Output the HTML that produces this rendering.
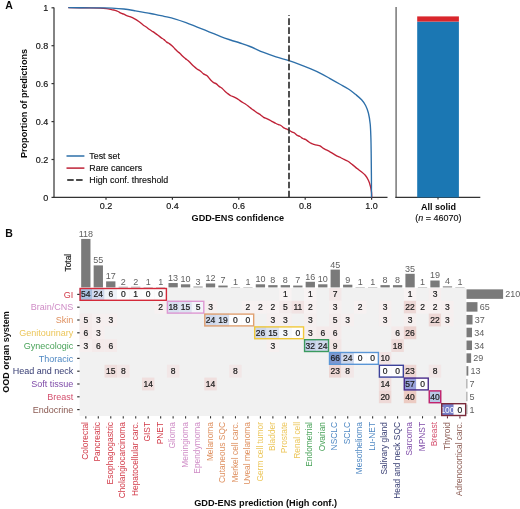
<!DOCTYPE html>
<html><head><meta charset="utf-8"><style>
html,body{margin:0;padding:0;background:#fff;}
body{width:520px;height:509px;overflow:hidden;font-family:"Liberation Sans",sans-serif;}
svg{display:block;filter:blur(0.35px);}
</style></head><body>
<svg width="520" height="509" viewBox="0 0 520 509"><text x="5.3" y="9" font-family="Liberation Sans, sans-serif" font-size="10.5" font-weight="bold" fill="#0a0a0a">A</text>
<line x1="54.0" y1="7.5" x2="54.0" y2="198.1" stroke="#5a5a5a" stroke-width="1.5"/>
<line x1="53.3" y1="197.4" x2="387.5" y2="197.4" stroke="#333" stroke-width="1.4"/>
<line x1="51.5" y1="197.4" x2="54.0" y2="197.4" stroke="#333" stroke-width="1.2"/>
<text x="48.3" y="200.6" font-family="Liberation Sans, sans-serif" font-size="9" fill="#111" stroke="#111" stroke-width="0.15" text-anchor="end">0</text>
<line x1="51.5" y1="159.5" x2="54.0" y2="159.5" stroke="#333" stroke-width="1.2"/>
<text x="48.3" y="162.7" font-family="Liberation Sans, sans-serif" font-size="9" fill="#111" stroke="#111" stroke-width="0.15" text-anchor="end">0.2</text>
<line x1="51.5" y1="121.6" x2="54.0" y2="121.6" stroke="#333" stroke-width="1.2"/>
<text x="48.3" y="124.8" font-family="Liberation Sans, sans-serif" font-size="9" fill="#111" stroke="#111" stroke-width="0.15" text-anchor="end">0.4</text>
<line x1="51.5" y1="83.6" x2="54.0" y2="83.6" stroke="#333" stroke-width="1.2"/>
<text x="48.3" y="86.8" font-family="Liberation Sans, sans-serif" font-size="9" fill="#111" stroke="#111" stroke-width="0.15" text-anchor="end">0.6</text>
<line x1="51.5" y1="45.7" x2="54.0" y2="45.7" stroke="#333" stroke-width="1.2"/>
<text x="48.3" y="48.9" font-family="Liberation Sans, sans-serif" font-size="9" fill="#111" stroke="#111" stroke-width="0.15" text-anchor="end">0.8</text>
<line x1="51.5" y1="7.8" x2="54.0" y2="7.8" stroke="#333" stroke-width="1.2"/>
<text x="48.3" y="11.0" font-family="Liberation Sans, sans-serif" font-size="9" fill="#111" stroke="#111" stroke-width="0.15" text-anchor="end">1</text>
<line x1="106.0" y1="197.4" x2="106.0" y2="199.8" stroke="#333" stroke-width="1.2"/>
<text x="106.0" y="208.7" font-family="Liberation Sans, sans-serif" font-size="9" fill="#111" stroke="#111" stroke-width="0.15" text-anchor="middle">0.2</text>
<line x1="172.4" y1="197.4" x2="172.4" y2="199.8" stroke="#333" stroke-width="1.2"/>
<text x="172.4" y="208.7" font-family="Liberation Sans, sans-serif" font-size="9" fill="#111" stroke="#111" stroke-width="0.15" text-anchor="middle">0.4</text>
<line x1="238.8" y1="197.4" x2="238.8" y2="199.8" stroke="#333" stroke-width="1.2"/>
<text x="238.8" y="208.7" font-family="Liberation Sans, sans-serif" font-size="9" fill="#111" stroke="#111" stroke-width="0.15" text-anchor="middle">0.6</text>
<line x1="305.2" y1="197.4" x2="305.2" y2="199.8" stroke="#333" stroke-width="1.2"/>
<text x="305.2" y="208.7" font-family="Liberation Sans, sans-serif" font-size="9" fill="#111" stroke="#111" stroke-width="0.15" text-anchor="middle">0.8</text>
<line x1="371.6" y1="197.4" x2="371.6" y2="199.8" stroke="#333" stroke-width="1.2"/>
<text x="371.6" y="208.7" font-family="Liberation Sans, sans-serif" font-size="9" fill="#111" stroke="#111" stroke-width="0.15" text-anchor="middle">1.0</text>
<text x="237.8" y="221.2" font-family="Liberation Sans, sans-serif" font-size="9.1" font-weight="bold" fill="#0a0a0a" text-anchor="middle">GDD-ENS confidence</text>
<text transform="translate(27,103.5) rotate(-90)" font-family="Liberation Sans, sans-serif" font-size="9.1" font-weight="bold" fill="#0a0a0a" text-anchor="middle">Proportion of predictions</text>
<path d="M68.30,7.70 C71.92,7.72 84.72,7.73 90.00,7.80 C95.28,7.87 97.25,7.95 100.00,8.10 C102.75,8.25 104.45,8.42 106.50,8.70 C108.55,8.98 110.85,9.54 112.30,9.80 C113.75,10.06 114.23,10.00 115.20,10.28 C116.17,10.57 117.14,11.01 118.10,11.50 C119.06,11.99 120.00,12.75 120.95,13.20 C121.90,13.65 122.84,13.79 123.80,14.20 C124.76,14.61 125.73,15.26 126.70,15.66 C127.67,16.06 128.35,16.11 129.60,16.60 C130.85,17.09 132.67,17.78 134.20,18.60 C135.73,19.42 137.27,20.40 138.80,21.50 C140.33,22.60 142.15,24.28 143.40,25.20 C144.65,26.12 145.33,26.32 146.30,27.01 C147.27,27.69 148.23,28.60 149.20,29.30 C150.17,30.00 151.13,30.56 152.10,31.20 C153.07,31.83 154.02,32.43 155.00,33.10 C155.98,33.77 157.00,34.47 158.00,35.22 C159.00,35.96 160.00,36.85 161.00,37.58 C162.00,38.32 163.06,38.85 164.00,39.60 C164.94,40.35 165.77,41.44 166.65,42.11 C167.53,42.79 168.42,43.03 169.30,43.64 C170.18,44.26 171.07,44.99 171.95,45.80 C172.83,46.61 173.71,47.57 174.60,48.50 C175.49,49.43 176.40,50.53 177.30,51.36 C178.20,52.19 179.10,52.65 180.00,53.48 C180.90,54.31 181.80,55.48 182.70,56.34 C183.60,57.19 184.47,57.87 185.40,58.60 C186.33,59.33 187.33,59.84 188.30,60.70 C189.27,61.56 190.23,62.76 191.20,63.75 C192.17,64.73 193.13,65.75 194.10,66.62 C195.07,67.50 195.97,68.28 197.00,69.00 C198.03,69.72 199.18,70.12 200.27,70.93 C201.36,71.74 202.44,73.07 203.53,73.85 C204.62,74.62 205.57,74.54 206.80,75.60 C208.03,76.66 209.76,79.02 210.90,80.20 C212.04,81.38 212.72,82.06 213.63,82.67 C214.54,83.28 215.46,83.24 216.37,83.86 C217.28,84.49 218.16,85.66 219.10,86.40 C220.04,87.14 221.03,87.52 222.00,88.33 C222.97,89.13 223.93,90.36 224.90,91.24 C225.87,92.12 226.83,92.85 227.80,93.60 C228.78,94.35 229.77,95.19 230.75,95.74 C231.73,96.29 232.72,96.43 233.70,96.88 C234.68,97.33 235.67,97.83 236.65,98.42 C237.63,99.00 238.60,99.72 239.60,100.40 C240.60,101.08 241.63,101.83 242.65,102.47 C243.67,103.11 244.68,103.55 245.70,104.23 C246.72,104.91 247.73,105.78 248.75,106.57 C249.77,107.37 250.80,108.26 251.80,109.00 C252.80,109.74 253.77,110.32 254.75,111.01 C255.73,111.70 256.72,112.49 257.70,113.15 C258.68,113.80 259.67,114.27 260.65,114.96 C261.63,115.65 262.59,116.70 263.60,117.30 C264.61,117.90 265.67,118.11 266.70,118.58 C267.73,119.05 268.77,119.56 269.80,120.12 C270.83,120.67 271.87,121.35 272.90,121.91 C273.93,122.47 275.05,123.05 276.00,123.50 C276.95,123.95 277.73,124.26 278.60,124.63 C279.47,125.00 280.33,125.16 281.20,125.70 C282.07,126.24 282.93,127.32 283.80,127.86 C284.67,128.39 285.53,128.53 286.40,128.92 C287.27,129.31 288.11,129.70 289.00,130.20 C289.89,130.70 290.83,131.44 291.75,131.92 C292.67,132.39 293.58,132.45 294.50,133.04 C295.42,133.62 296.33,134.84 297.25,135.42 C298.17,135.99 299.09,135.98 300.00,136.50 C300.91,137.02 301.80,138.04 302.70,138.53 C303.60,139.03 304.50,139.00 305.40,139.47 C306.30,139.94 307.20,140.74 308.10,141.36 C309.00,141.98 309.84,142.71 310.80,143.20 C311.76,143.69 312.84,143.96 313.87,144.29 C314.89,144.61 315.91,144.89 316.93,145.14 C317.96,145.40 318.91,145.25 320.00,145.80 C321.09,146.35 322.30,147.70 323.45,148.44 C324.60,149.17 325.75,149.59 326.90,150.20 C328.05,150.81 329.20,151.42 330.35,152.07 C331.50,152.72 332.67,153.42 333.80,154.10 C334.93,154.78 336.03,155.56 337.15,156.13 C338.27,156.70 339.36,156.95 340.50,157.50 C341.64,158.05 342.83,158.84 344.00,159.42 C345.17,160.00 346.34,160.33 347.50,161.00 C348.66,161.67 349.80,162.57 350.95,163.45 C352.10,164.34 353.31,165.40 354.40,166.30 C355.49,167.20 356.47,168.02 357.50,168.84 C358.53,169.65 359.30,170.12 360.60,171.20 C361.90,172.28 363.98,173.75 365.30,175.30 C366.62,176.85 367.63,178.63 368.50,180.50 C369.37,182.37 370.00,184.58 370.50,186.50 C371.00,188.42 371.28,190.18 371.50,192.00 C371.72,193.82 371.75,196.50 371.80,197.40" fill="none" stroke="#bf2237" stroke-width="1.35" stroke-linejoin="round"/>
<path d="M68.30,7.70 C71.92,7.72 84.55,7.77 90.00,7.80 C95.45,7.83 97.33,7.85 101.00,7.90 C104.67,7.95 108.20,7.92 112.00,8.10 C115.80,8.28 119.90,8.55 123.80,9.00 C127.70,9.45 131.55,10.15 135.40,10.80 C139.25,11.45 143.63,12.32 146.90,12.90 C150.17,13.48 152.15,13.73 155.00,14.30 C157.85,14.87 160.73,15.55 164.00,16.30 C167.27,17.05 170.93,17.75 174.60,18.80 C178.27,19.85 182.23,21.22 186.00,22.60 C189.77,23.98 193.37,25.57 197.20,27.10 C201.03,28.63 205.07,30.22 209.00,31.80 C212.93,33.38 217.22,35.23 220.80,36.60 C224.38,37.97 227.30,38.93 230.50,40.00 C233.70,41.07 236.75,41.92 240.00,43.00 C243.25,44.08 246.07,44.93 250.00,46.50 C253.93,48.07 259.27,50.68 263.60,52.40 C267.93,54.12 271.77,55.42 276.00,56.80 C280.23,58.18 285.00,59.40 289.00,60.70 C293.00,62.00 296.37,63.23 300.00,64.60 C303.63,65.97 307.38,67.45 310.80,68.90 C314.22,70.35 317.37,71.73 320.50,73.30 C323.63,74.87 326.42,76.52 329.60,78.30 C332.78,80.08 336.33,82.13 339.60,84.00 C342.87,85.87 346.57,87.78 349.20,89.50 C351.83,91.22 353.33,92.58 355.40,94.30 C357.47,96.02 359.90,97.93 361.60,99.80 C363.30,101.67 364.47,103.30 365.60,105.50 C366.73,107.70 367.63,109.92 368.40,113.00 C369.17,116.08 369.78,119.83 370.20,124.00 C370.62,128.17 370.73,132.83 370.90,138.00 C371.07,143.17 371.12,148.83 371.20,155.00 C371.28,161.17 371.35,167.93 371.40,175.00 C371.45,182.07 371.48,193.67 371.50,197.40" fill="none" stroke="#2d6fa9" stroke-width="1.35" stroke-linejoin="round"/>
<line x1="289" y1="197.4" x2="289" y2="15" stroke="#333" stroke-width="1.7" stroke-dasharray="6.6 2.48"/>
<line x1="66.5" y1="156.0" x2="84.4" y2="156.0" stroke="#2d6fa9" stroke-width="1.5"/>
<text x="89.3" y="159.2" font-family="Liberation Sans, sans-serif" font-size="8.9" fill="#111" stroke="#111" stroke-width="0.15">Test set</text>
<line x1="66.5" y1="168.1" x2="84.4" y2="168.1" stroke="#bf2237" stroke-width="1.5"/>
<text x="89.3" y="171.3" font-family="Liberation Sans, sans-serif" font-size="8.9" fill="#111" stroke="#111" stroke-width="0.15">Rare cancers</text>
<line x1="67.2" y1="180.1" x2="82.6" y2="180.1" stroke="#111" stroke-width="1.5" stroke-dasharray="6.5 2.4"/>
<text x="89.3" y="183.3" font-family="Liberation Sans, sans-serif" font-size="8.9" fill="#111" stroke="#111" stroke-width="0.15">High conf. threshold</text>
<line x1="396.1" y1="7" x2="396.1" y2="198.1" stroke="#777" stroke-width="1.5"/>
<line x1="395.4" y1="197.4" x2="480.3" y2="197.4" stroke="#333" stroke-width="1.4"/>
<rect x="417.2" y="21.6" width="41.7" height="175.8" fill="#1b77b3"/>
<rect x="417.2" y="16.4" width="41.7" height="5.2" fill="#d9262c"/>
<line x1="438" y1="197.4" x2="438" y2="199.6" stroke="#333" stroke-width="1.1"/>
<text x="438.5" y="210.2" font-family="Liberation Sans, sans-serif" font-size="9" font-weight="bold" fill="#0a0a0a" text-anchor="middle">All solid</text>
<text x="438.3" y="220.5" font-family="Liberation Sans, sans-serif" font-size="9" fill="#111" stroke="#111" stroke-width="0.15" text-anchor="middle">(<tspan font-style="italic">n</tspan> = 46070)</text>
<text x="5.3" y="237.3" font-family="Liberation Sans, sans-serif" font-size="10.5" font-weight="bold" fill="#0a0a0a">B</text>
<rect x="81.18" y="238.94" width="9.3" height="48.46" fill="#7a7a7a"/>
<text x="85.83" y="236.84" font-family="Liberation Sans, sans-serif" font-size="9" fill="#606060" text-anchor="middle">118</text>
<rect x="93.65" y="265.40" width="9.3" height="22.00" fill="#7a7a7a"/>
<text x="98.30" y="263.30" font-family="Liberation Sans, sans-serif" font-size="9" fill="#606060" text-anchor="middle">55</text>
<rect x="106.12" y="281.36" width="9.3" height="6.04" fill="#7a7a7a"/>
<text x="110.77" y="279.26" font-family="Liberation Sans, sans-serif" font-size="9" fill="#606060" text-anchor="middle">17</text>
<rect x="118.59" y="286.80" width="9.3" height="0.60" fill="#7a7a7a"/>
<text x="123.25" y="284.70" font-family="Liberation Sans, sans-serif" font-size="9" fill="#606060" text-anchor="middle">2</text>
<rect x="131.06" y="286.80" width="9.3" height="0.60" fill="#7a7a7a"/>
<text x="135.72" y="284.70" font-family="Liberation Sans, sans-serif" font-size="9" fill="#606060" text-anchor="middle">2</text>
<rect x="143.53" y="287.05" width="9.3" height="0.35" fill="#7a7a7a"/>
<text x="148.19" y="284.95" font-family="Liberation Sans, sans-serif" font-size="9" fill="#606060" text-anchor="middle">1</text>
<rect x="156.00" y="287.05" width="9.3" height="0.35" fill="#7a7a7a"/>
<text x="160.66" y="284.95" font-family="Liberation Sans, sans-serif" font-size="9" fill="#606060" text-anchor="middle">1</text>
<rect x="168.47" y="283.04" width="9.3" height="4.36" fill="#7a7a7a"/>
<text x="173.12" y="280.94" font-family="Liberation Sans, sans-serif" font-size="9" fill="#606060" text-anchor="middle">13</text>
<rect x="180.94" y="284.30" width="9.3" height="3.10" fill="#7a7a7a"/>
<text x="185.59" y="282.20" font-family="Liberation Sans, sans-serif" font-size="9" fill="#606060" text-anchor="middle">10</text>
<rect x="193.41" y="286.60" width="9.3" height="0.80" fill="#7a7a7a"/>
<text x="198.06" y="284.50" font-family="Liberation Sans, sans-serif" font-size="9" fill="#606060" text-anchor="middle">3</text>
<rect x="205.88" y="283.46" width="9.3" height="3.94" fill="#7a7a7a"/>
<text x="210.53" y="281.36" font-family="Liberation Sans, sans-serif" font-size="9" fill="#606060" text-anchor="middle">12</text>
<rect x="218.35" y="285.56" width="9.3" height="1.84" fill="#7a7a7a"/>
<text x="223.00" y="283.46" font-family="Liberation Sans, sans-serif" font-size="9" fill="#606060" text-anchor="middle">7</text>
<rect x="230.82" y="287.05" width="9.3" height="0.35" fill="#7a7a7a"/>
<text x="235.47" y="284.95" font-family="Liberation Sans, sans-serif" font-size="9" fill="#606060" text-anchor="middle">1</text>
<rect x="243.29" y="287.05" width="9.3" height="0.35" fill="#7a7a7a"/>
<text x="247.94" y="284.95" font-family="Liberation Sans, sans-serif" font-size="9" fill="#606060" text-anchor="middle">1</text>
<rect x="255.76" y="284.30" width="9.3" height="3.10" fill="#7a7a7a"/>
<text x="260.41" y="282.20" font-family="Liberation Sans, sans-serif" font-size="9" fill="#606060" text-anchor="middle">10</text>
<rect x="268.24" y="285.14" width="9.3" height="2.26" fill="#7a7a7a"/>
<text x="272.88" y="283.04" font-family="Liberation Sans, sans-serif" font-size="9" fill="#606060" text-anchor="middle">8</text>
<rect x="280.71" y="285.14" width="9.3" height="2.26" fill="#7a7a7a"/>
<text x="285.36" y="283.04" font-family="Liberation Sans, sans-serif" font-size="9" fill="#606060" text-anchor="middle">8</text>
<rect x="293.18" y="285.56" width="9.3" height="1.84" fill="#7a7a7a"/>
<text x="297.83" y="283.46" font-family="Liberation Sans, sans-serif" font-size="9" fill="#606060" text-anchor="middle">7</text>
<rect x="305.65" y="281.78" width="9.3" height="5.62" fill="#7a7a7a"/>
<text x="310.30" y="279.68" font-family="Liberation Sans, sans-serif" font-size="9" fill="#606060" text-anchor="middle">16</text>
<rect x="318.12" y="284.30" width="9.3" height="3.10" fill="#7a7a7a"/>
<text x="322.76" y="282.20" font-family="Liberation Sans, sans-serif" font-size="9" fill="#606060" text-anchor="middle">10</text>
<rect x="330.59" y="269.60" width="9.3" height="17.80" fill="#7a7a7a"/>
<text x="335.24" y="267.50" font-family="Liberation Sans, sans-serif" font-size="9" fill="#606060" text-anchor="middle">45</text>
<rect x="343.06" y="284.72" width="9.3" height="2.68" fill="#7a7a7a"/>
<text x="347.71" y="282.62" font-family="Liberation Sans, sans-serif" font-size="9" fill="#606060" text-anchor="middle">9</text>
<rect x="355.52" y="287.05" width="9.3" height="0.35" fill="#7a7a7a"/>
<text x="360.17" y="284.95" font-family="Liberation Sans, sans-serif" font-size="9" fill="#606060" text-anchor="middle">1</text>
<rect x="368.00" y="287.05" width="9.3" height="0.35" fill="#7a7a7a"/>
<text x="372.64" y="284.95" font-family="Liberation Sans, sans-serif" font-size="9" fill="#606060" text-anchor="middle">1</text>
<rect x="380.47" y="285.14" width="9.3" height="2.26" fill="#7a7a7a"/>
<text x="385.12" y="283.04" font-family="Liberation Sans, sans-serif" font-size="9" fill="#606060" text-anchor="middle">8</text>
<rect x="392.94" y="285.14" width="9.3" height="2.26" fill="#7a7a7a"/>
<text x="397.59" y="283.04" font-family="Liberation Sans, sans-serif" font-size="9" fill="#606060" text-anchor="middle">8</text>
<rect x="405.41" y="273.80" width="9.3" height="13.60" fill="#7a7a7a"/>
<text x="410.06" y="271.70" font-family="Liberation Sans, sans-serif" font-size="9" fill="#606060" text-anchor="middle">35</text>
<rect x="417.88" y="287.05" width="9.3" height="0.35" fill="#7a7a7a"/>
<text x="422.52" y="284.95" font-family="Liberation Sans, sans-serif" font-size="9" fill="#606060" text-anchor="middle">1</text>
<rect x="430.35" y="280.52" width="9.3" height="6.88" fill="#7a7a7a"/>
<text x="435.00" y="278.42" font-family="Liberation Sans, sans-serif" font-size="9" fill="#606060" text-anchor="middle">19</text>
<rect x="442.82" y="286.40" width="9.3" height="1.00" fill="#7a7a7a"/>
<text x="447.47" y="284.30" font-family="Liberation Sans, sans-serif" font-size="9" fill="#606060" text-anchor="middle">4</text>
<rect x="455.29" y="287.05" width="9.3" height="0.35" fill="#7a7a7a"/>
<text x="459.94" y="284.95" font-family="Liberation Sans, sans-serif" font-size="9" fill="#606060" text-anchor="middle">1</text>
<text transform="translate(71.2,262.7) rotate(-90)" font-family="Liberation Sans, sans-serif" font-size="8.4" fill="#111" stroke="#111" stroke-width="0.15" text-anchor="middle">Total</text>
<rect x="79.6" y="288.0" width="386.57" height="128.00" fill="#f1f1f1"/>
<rect x="79.60" y="288.00" width="12.47" height="12.80" fill="#a8c0e0"/>
<rect x="92.07" y="288.00" width="12.47" height="12.80" fill="#cfd8ec"/>
<rect x="104.54" y="288.00" width="12.47" height="12.80" fill="#f0f2f8"/>
<rect x="117.01" y="288.00" width="12.47" height="12.80" fill="#fdfdfe"/>
<rect x="129.48" y="288.00" width="12.47" height="12.80" fill="#fbfbfd"/>
<rect x="141.95" y="288.00" width="12.47" height="12.80" fill="#fdfdfe"/>
<rect x="154.42" y="288.00" width="12.47" height="12.80" fill="#fdfdfe"/>
<rect x="279.12" y="288.00" width="12.47" height="12.80" fill="#f8f3f3"/>
<rect x="304.06" y="288.00" width="12.47" height="12.80" fill="#f8f3f3"/>
<rect x="329.00" y="288.00" width="12.47" height="12.80" fill="#f3e8e8"/>
<rect x="403.82" y="288.00" width="12.47" height="12.80" fill="#f8f3f3"/>
<rect x="428.76" y="288.00" width="12.47" height="12.80" fill="#f6efef"/>
<rect x="154.42" y="300.80" width="12.47" height="12.80" fill="#f7f1f1"/>
<rect x="166.89" y="300.80" width="12.47" height="12.80" fill="#d8dfef"/>
<rect x="179.36" y="300.80" width="12.47" height="12.80" fill="#dce2f0"/>
<rect x="191.83" y="300.80" width="12.47" height="12.80" fill="#f2f4f9"/>
<rect x="204.30" y="300.80" width="12.47" height="12.80" fill="#f6efef"/>
<rect x="241.71" y="300.80" width="12.47" height="12.80" fill="#f7f1f1"/>
<rect x="254.18" y="300.80" width="12.47" height="12.80" fill="#f7f1f1"/>
<rect x="266.65" y="300.80" width="12.47" height="12.80" fill="#f7f1f1"/>
<rect x="279.12" y="300.80" width="12.47" height="12.80" fill="#f4ebeb"/>
<rect x="291.59" y="300.80" width="12.47" height="12.80" fill="#f1e3e3"/>
<rect x="304.06" y="300.80" width="12.47" height="12.80" fill="#f7f1f1"/>
<rect x="329.00" y="300.80" width="12.47" height="12.80" fill="#f6efef"/>
<rect x="353.94" y="300.80" width="12.47" height="12.80" fill="#f7f1f1"/>
<rect x="378.88" y="300.80" width="12.47" height="12.80" fill="#f6efef"/>
<rect x="403.82" y="300.80" width="12.47" height="12.80" fill="#edd7d5"/>
<rect x="416.29" y="300.80" width="12.47" height="12.80" fill="#f7f1f1"/>
<rect x="428.76" y="300.80" width="12.47" height="12.80" fill="#f7f1f1"/>
<rect x="441.23" y="300.80" width="12.47" height="12.80" fill="#f6efef"/>
<rect x="79.60" y="313.60" width="12.47" height="12.80" fill="#f4ebeb"/>
<rect x="92.07" y="313.60" width="12.47" height="12.80" fill="#f6efef"/>
<rect x="104.54" y="313.60" width="12.47" height="12.80" fill="#f6efef"/>
<rect x="204.30" y="313.60" width="12.47" height="12.80" fill="#cfd8ec"/>
<rect x="216.77" y="313.60" width="12.47" height="12.80" fill="#d6deee"/>
<rect x="229.24" y="313.60" width="12.47" height="12.80" fill="#fdfdfe"/>
<rect x="241.71" y="313.60" width="12.47" height="12.80" fill="#fdfdfe"/>
<rect x="266.65" y="313.60" width="12.47" height="12.80" fill="#f6efef"/>
<rect x="279.12" y="313.60" width="12.47" height="12.80" fill="#f6efef"/>
<rect x="304.06" y="313.60" width="12.47" height="12.80" fill="#f6efef"/>
<rect x="329.00" y="313.60" width="12.47" height="12.80" fill="#f4ebeb"/>
<rect x="341.47" y="313.60" width="12.47" height="12.80" fill="#f6efef"/>
<rect x="378.88" y="313.60" width="12.47" height="12.80" fill="#f6efef"/>
<rect x="403.82" y="313.60" width="12.47" height="12.80" fill="#f6efef"/>
<rect x="428.76" y="313.60" width="12.47" height="12.80" fill="#edd7d5"/>
<rect x="441.23" y="313.60" width="12.47" height="12.80" fill="#f6efef"/>
<rect x="79.60" y="326.40" width="12.47" height="12.80" fill="#f4eaea"/>
<rect x="92.07" y="326.40" width="12.47" height="12.80" fill="#f6efef"/>
<rect x="254.18" y="326.40" width="12.47" height="12.80" fill="#cdd6eb"/>
<rect x="266.65" y="326.40" width="12.47" height="12.80" fill="#dce2f0"/>
<rect x="279.12" y="326.40" width="12.47" height="12.80" fill="#f6f8fb"/>
<rect x="291.59" y="326.40" width="12.47" height="12.80" fill="#fdfdfe"/>
<rect x="304.06" y="326.40" width="12.47" height="12.80" fill="#f6efef"/>
<rect x="316.53" y="326.40" width="12.47" height="12.80" fill="#f4eaea"/>
<rect x="329.00" y="326.40" width="12.47" height="12.80" fill="#f4eaea"/>
<rect x="391.35" y="326.40" width="12.47" height="12.80" fill="#f4eaea"/>
<rect x="403.82" y="326.40" width="12.47" height="12.80" fill="#ecd3d0"/>
<rect x="79.60" y="339.20" width="12.47" height="12.80" fill="#f6efef"/>
<rect x="92.07" y="339.20" width="12.47" height="12.80" fill="#f4eaea"/>
<rect x="104.54" y="339.20" width="12.47" height="12.80" fill="#f4eaea"/>
<rect x="266.65" y="339.20" width="12.47" height="12.80" fill="#f6efef"/>
<rect x="304.06" y="339.20" width="12.47" height="12.80" fill="#c4d0e8"/>
<rect x="316.53" y="339.20" width="12.47" height="12.80" fill="#cfd8ec"/>
<rect x="329.00" y="339.20" width="12.47" height="12.80" fill="#f2e6e5"/>
<rect x="391.35" y="339.20" width="12.47" height="12.80" fill="#eedbd9"/>
<rect x="329.00" y="352.00" width="12.47" height="12.80" fill="#7e98d0"/>
<rect x="341.47" y="352.00" width="12.47" height="12.80" fill="#cfd8ec"/>
<rect x="353.94" y="352.00" width="12.47" height="12.80" fill="#fdfdfe"/>
<rect x="366.41" y="352.00" width="12.47" height="12.80" fill="#fdfdfe"/>
<rect x="378.88" y="352.00" width="12.47" height="12.80" fill="#f2e4e4"/>
<rect x="104.54" y="364.80" width="12.47" height="12.80" fill="#efdedd"/>
<rect x="117.01" y="364.80" width="12.47" height="12.80" fill="#f2e7e7"/>
<rect x="166.89" y="364.80" width="12.47" height="12.80" fill="#f2e7e7"/>
<rect x="229.24" y="364.80" width="12.47" height="12.80" fill="#f2e7e7"/>
<rect x="329.00" y="364.80" width="12.47" height="12.80" fill="#edd6d3"/>
<rect x="341.47" y="364.80" width="12.47" height="12.80" fill="#f2e7e7"/>
<rect x="378.88" y="364.80" width="12.47" height="12.80" fill="#fdfdfe"/>
<rect x="391.35" y="364.80" width="12.47" height="12.80" fill="#fdfdfe"/>
<rect x="403.82" y="364.80" width="12.47" height="12.80" fill="#edd6d3"/>
<rect x="428.76" y="364.80" width="12.47" height="12.80" fill="#f2e7e7"/>
<rect x="141.95" y="377.60" width="12.47" height="12.80" fill="#f0dfde"/>
<rect x="204.30" y="377.60" width="12.47" height="12.80" fill="#f0dfde"/>
<rect x="378.88" y="377.60" width="12.47" height="12.80" fill="#f0dfde"/>
<rect x="403.82" y="377.60" width="12.47" height="12.80" fill="#98a2da"/>
<rect x="416.29" y="377.60" width="12.47" height="12.80" fill="#fdfdfe"/>
<rect x="378.88" y="390.40" width="12.47" height="12.80" fill="#eed9d7"/>
<rect x="403.82" y="390.40" width="12.47" height="12.80" fill="#eccbc2"/>
<rect x="428.76" y="390.40" width="12.47" height="12.80" fill="#b8c8e4"/>
<rect x="441.23" y="403.20" width="12.47" height="12.80" fill="#767ec8"/>
<rect x="453.70" y="403.20" width="12.47" height="12.80" fill="#fdfdfe"/>
<text x="85.83" y="297.40" font-family="Liberation Sans, sans-serif" font-size="8.5" fill="#1a1a1a" stroke="#1a1a1a" stroke-width="0.2" text-anchor="middle">54</text>
<text x="98.30" y="297.40" font-family="Liberation Sans, sans-serif" font-size="8.5" fill="#1a1a1a" stroke="#1a1a1a" stroke-width="0.2" text-anchor="middle">24</text>
<text x="110.77" y="297.40" font-family="Liberation Sans, sans-serif" font-size="8.5" fill="#1a1a1a" stroke="#1a1a1a" stroke-width="0.2" text-anchor="middle">6</text>
<text x="123.25" y="297.40" font-family="Liberation Sans, sans-serif" font-size="8.5" fill="#1a1a1a" stroke="#1a1a1a" stroke-width="0.2" text-anchor="middle">0</text>
<text x="135.72" y="297.40" font-family="Liberation Sans, sans-serif" font-size="8.5" fill="#1a1a1a" stroke="#1a1a1a" stroke-width="0.2" text-anchor="middle">1</text>
<text x="148.19" y="297.40" font-family="Liberation Sans, sans-serif" font-size="8.5" fill="#1a1a1a" stroke="#1a1a1a" stroke-width="0.2" text-anchor="middle">0</text>
<text x="160.66" y="297.40" font-family="Liberation Sans, sans-serif" font-size="8.5" fill="#1a1a1a" stroke="#1a1a1a" stroke-width="0.2" text-anchor="middle">0</text>
<text x="285.36" y="297.40" font-family="Liberation Sans, sans-serif" font-size="8.5" fill="#1a1a1a" stroke="#1a1a1a" stroke-width="0.2" text-anchor="middle">1</text>
<text x="310.30" y="297.40" font-family="Liberation Sans, sans-serif" font-size="8.5" fill="#1a1a1a" stroke="#1a1a1a" stroke-width="0.2" text-anchor="middle">1</text>
<text x="335.24" y="297.40" font-family="Liberation Sans, sans-serif" font-size="8.5" fill="#1a1a1a" stroke="#1a1a1a" stroke-width="0.2" text-anchor="middle">7</text>
<text x="410.06" y="297.40" font-family="Liberation Sans, sans-serif" font-size="8.5" fill="#1a1a1a" stroke="#1a1a1a" stroke-width="0.2" text-anchor="middle">1</text>
<text x="435.00" y="297.40" font-family="Liberation Sans, sans-serif" font-size="8.5" fill="#1a1a1a" stroke="#1a1a1a" stroke-width="0.2" text-anchor="middle">3</text>
<text x="160.66" y="310.20" font-family="Liberation Sans, sans-serif" font-size="8.5" fill="#1a1a1a" stroke="#1a1a1a" stroke-width="0.2" text-anchor="middle">2</text>
<text x="173.12" y="310.20" font-family="Liberation Sans, sans-serif" font-size="8.5" fill="#1a1a1a" stroke="#1a1a1a" stroke-width="0.2" text-anchor="middle">18</text>
<text x="185.59" y="310.20" font-family="Liberation Sans, sans-serif" font-size="8.5" fill="#1a1a1a" stroke="#1a1a1a" stroke-width="0.2" text-anchor="middle">15</text>
<text x="198.06" y="310.20" font-family="Liberation Sans, sans-serif" font-size="8.5" fill="#1a1a1a" stroke="#1a1a1a" stroke-width="0.2" text-anchor="middle">5</text>
<text x="210.53" y="310.20" font-family="Liberation Sans, sans-serif" font-size="8.5" fill="#1a1a1a" stroke="#1a1a1a" stroke-width="0.2" text-anchor="middle">3</text>
<text x="247.94" y="310.20" font-family="Liberation Sans, sans-serif" font-size="8.5" fill="#1a1a1a" stroke="#1a1a1a" stroke-width="0.2" text-anchor="middle">2</text>
<text x="260.41" y="310.20" font-family="Liberation Sans, sans-serif" font-size="8.5" fill="#1a1a1a" stroke="#1a1a1a" stroke-width="0.2" text-anchor="middle">2</text>
<text x="272.88" y="310.20" font-family="Liberation Sans, sans-serif" font-size="8.5" fill="#1a1a1a" stroke="#1a1a1a" stroke-width="0.2" text-anchor="middle">2</text>
<text x="285.36" y="310.20" font-family="Liberation Sans, sans-serif" font-size="8.5" fill="#1a1a1a" stroke="#1a1a1a" stroke-width="0.2" text-anchor="middle">5</text>
<text x="297.83" y="310.20" font-family="Liberation Sans, sans-serif" font-size="8.5" fill="#1a1a1a" stroke="#1a1a1a" stroke-width="0.2" text-anchor="middle">11</text>
<text x="310.30" y="310.20" font-family="Liberation Sans, sans-serif" font-size="8.5" fill="#1a1a1a" stroke="#1a1a1a" stroke-width="0.2" text-anchor="middle">2</text>
<text x="335.24" y="310.20" font-family="Liberation Sans, sans-serif" font-size="8.5" fill="#1a1a1a" stroke="#1a1a1a" stroke-width="0.2" text-anchor="middle">3</text>
<text x="360.17" y="310.20" font-family="Liberation Sans, sans-serif" font-size="8.5" fill="#1a1a1a" stroke="#1a1a1a" stroke-width="0.2" text-anchor="middle">2</text>
<text x="385.12" y="310.20" font-family="Liberation Sans, sans-serif" font-size="8.5" fill="#1a1a1a" stroke="#1a1a1a" stroke-width="0.2" text-anchor="middle">3</text>
<text x="410.06" y="310.20" font-family="Liberation Sans, sans-serif" font-size="8.5" fill="#1a1a1a" stroke="#1a1a1a" stroke-width="0.2" text-anchor="middle">22</text>
<text x="422.52" y="310.20" font-family="Liberation Sans, sans-serif" font-size="8.5" fill="#1a1a1a" stroke="#1a1a1a" stroke-width="0.2" text-anchor="middle">2</text>
<text x="435.00" y="310.20" font-family="Liberation Sans, sans-serif" font-size="8.5" fill="#1a1a1a" stroke="#1a1a1a" stroke-width="0.2" text-anchor="middle">2</text>
<text x="447.47" y="310.20" font-family="Liberation Sans, sans-serif" font-size="8.5" fill="#1a1a1a" stroke="#1a1a1a" stroke-width="0.2" text-anchor="middle">3</text>
<text x="85.83" y="323.00" font-family="Liberation Sans, sans-serif" font-size="8.5" fill="#1a1a1a" stroke="#1a1a1a" stroke-width="0.2" text-anchor="middle">5</text>
<text x="98.30" y="323.00" font-family="Liberation Sans, sans-serif" font-size="8.5" fill="#1a1a1a" stroke="#1a1a1a" stroke-width="0.2" text-anchor="middle">3</text>
<text x="110.77" y="323.00" font-family="Liberation Sans, sans-serif" font-size="8.5" fill="#1a1a1a" stroke="#1a1a1a" stroke-width="0.2" text-anchor="middle">3</text>
<text x="210.53" y="323.00" font-family="Liberation Sans, sans-serif" font-size="8.5" fill="#1a1a1a" stroke="#1a1a1a" stroke-width="0.2" text-anchor="middle">24</text>
<text x="223.00" y="323.00" font-family="Liberation Sans, sans-serif" font-size="8.5" fill="#1a1a1a" stroke="#1a1a1a" stroke-width="0.2" text-anchor="middle">19</text>
<text x="235.47" y="323.00" font-family="Liberation Sans, sans-serif" font-size="8.5" fill="#1a1a1a" stroke="#1a1a1a" stroke-width="0.2" text-anchor="middle">0</text>
<text x="247.94" y="323.00" font-family="Liberation Sans, sans-serif" font-size="8.5" fill="#1a1a1a" stroke="#1a1a1a" stroke-width="0.2" text-anchor="middle">0</text>
<text x="272.88" y="323.00" font-family="Liberation Sans, sans-serif" font-size="8.5" fill="#1a1a1a" stroke="#1a1a1a" stroke-width="0.2" text-anchor="middle">3</text>
<text x="285.36" y="323.00" font-family="Liberation Sans, sans-serif" font-size="8.5" fill="#1a1a1a" stroke="#1a1a1a" stroke-width="0.2" text-anchor="middle">3</text>
<text x="310.30" y="323.00" font-family="Liberation Sans, sans-serif" font-size="8.5" fill="#1a1a1a" stroke="#1a1a1a" stroke-width="0.2" text-anchor="middle">3</text>
<text x="335.24" y="323.00" font-family="Liberation Sans, sans-serif" font-size="8.5" fill="#1a1a1a" stroke="#1a1a1a" stroke-width="0.2" text-anchor="middle">5</text>
<text x="347.71" y="323.00" font-family="Liberation Sans, sans-serif" font-size="8.5" fill="#1a1a1a" stroke="#1a1a1a" stroke-width="0.2" text-anchor="middle">3</text>
<text x="385.12" y="323.00" font-family="Liberation Sans, sans-serif" font-size="8.5" fill="#1a1a1a" stroke="#1a1a1a" stroke-width="0.2" text-anchor="middle">3</text>
<text x="410.06" y="323.00" font-family="Liberation Sans, sans-serif" font-size="8.5" fill="#1a1a1a" stroke="#1a1a1a" stroke-width="0.2" text-anchor="middle">3</text>
<text x="435.00" y="323.00" font-family="Liberation Sans, sans-serif" font-size="8.5" fill="#1a1a1a" stroke="#1a1a1a" stroke-width="0.2" text-anchor="middle">22</text>
<text x="447.47" y="323.00" font-family="Liberation Sans, sans-serif" font-size="8.5" fill="#1a1a1a" stroke="#1a1a1a" stroke-width="0.2" text-anchor="middle">3</text>
<text x="85.83" y="335.80" font-family="Liberation Sans, sans-serif" font-size="8.5" fill="#1a1a1a" stroke="#1a1a1a" stroke-width="0.2" text-anchor="middle">6</text>
<text x="98.30" y="335.80" font-family="Liberation Sans, sans-serif" font-size="8.5" fill="#1a1a1a" stroke="#1a1a1a" stroke-width="0.2" text-anchor="middle">3</text>
<text x="260.41" y="335.80" font-family="Liberation Sans, sans-serif" font-size="8.5" fill="#1a1a1a" stroke="#1a1a1a" stroke-width="0.2" text-anchor="middle">26</text>
<text x="272.88" y="335.80" font-family="Liberation Sans, sans-serif" font-size="8.5" fill="#1a1a1a" stroke="#1a1a1a" stroke-width="0.2" text-anchor="middle">15</text>
<text x="285.36" y="335.80" font-family="Liberation Sans, sans-serif" font-size="8.5" fill="#1a1a1a" stroke="#1a1a1a" stroke-width="0.2" text-anchor="middle">3</text>
<text x="297.83" y="335.80" font-family="Liberation Sans, sans-serif" font-size="8.5" fill="#1a1a1a" stroke="#1a1a1a" stroke-width="0.2" text-anchor="middle">0</text>
<text x="310.30" y="335.80" font-family="Liberation Sans, sans-serif" font-size="8.5" fill="#1a1a1a" stroke="#1a1a1a" stroke-width="0.2" text-anchor="middle">3</text>
<text x="322.76" y="335.80" font-family="Liberation Sans, sans-serif" font-size="8.5" fill="#1a1a1a" stroke="#1a1a1a" stroke-width="0.2" text-anchor="middle">6</text>
<text x="335.24" y="335.80" font-family="Liberation Sans, sans-serif" font-size="8.5" fill="#1a1a1a" stroke="#1a1a1a" stroke-width="0.2" text-anchor="middle">6</text>
<text x="397.59" y="335.80" font-family="Liberation Sans, sans-serif" font-size="8.5" fill="#1a1a1a" stroke="#1a1a1a" stroke-width="0.2" text-anchor="middle">6</text>
<text x="410.06" y="335.80" font-family="Liberation Sans, sans-serif" font-size="8.5" fill="#1a1a1a" stroke="#1a1a1a" stroke-width="0.2" text-anchor="middle">26</text>
<text x="85.83" y="348.60" font-family="Liberation Sans, sans-serif" font-size="8.5" fill="#1a1a1a" stroke="#1a1a1a" stroke-width="0.2" text-anchor="middle">3</text>
<text x="98.30" y="348.60" font-family="Liberation Sans, sans-serif" font-size="8.5" fill="#1a1a1a" stroke="#1a1a1a" stroke-width="0.2" text-anchor="middle">6</text>
<text x="110.77" y="348.60" font-family="Liberation Sans, sans-serif" font-size="8.5" fill="#1a1a1a" stroke="#1a1a1a" stroke-width="0.2" text-anchor="middle">6</text>
<text x="272.88" y="348.60" font-family="Liberation Sans, sans-serif" font-size="8.5" fill="#1a1a1a" stroke="#1a1a1a" stroke-width="0.2" text-anchor="middle">3</text>
<text x="310.30" y="348.60" font-family="Liberation Sans, sans-serif" font-size="8.5" fill="#1a1a1a" stroke="#1a1a1a" stroke-width="0.2" text-anchor="middle">32</text>
<text x="322.76" y="348.60" font-family="Liberation Sans, sans-serif" font-size="8.5" fill="#1a1a1a" stroke="#1a1a1a" stroke-width="0.2" text-anchor="middle">24</text>
<text x="335.24" y="348.60" font-family="Liberation Sans, sans-serif" font-size="8.5" fill="#1a1a1a" stroke="#1a1a1a" stroke-width="0.2" text-anchor="middle">9</text>
<text x="397.59" y="348.60" font-family="Liberation Sans, sans-serif" font-size="8.5" fill="#1a1a1a" stroke="#1a1a1a" stroke-width="0.2" text-anchor="middle">18</text>
<text x="335.24" y="361.40" font-family="Liberation Sans, sans-serif" font-size="8.5" fill="#1a1a1a" stroke="#1a1a1a" stroke-width="0.2" text-anchor="middle">66</text>
<text x="347.71" y="361.40" font-family="Liberation Sans, sans-serif" font-size="8.5" fill="#1a1a1a" stroke="#1a1a1a" stroke-width="0.2" text-anchor="middle">24</text>
<text x="360.17" y="361.40" font-family="Liberation Sans, sans-serif" font-size="8.5" fill="#1a1a1a" stroke="#1a1a1a" stroke-width="0.2" text-anchor="middle">0</text>
<text x="372.64" y="361.40" font-family="Liberation Sans, sans-serif" font-size="8.5" fill="#1a1a1a" stroke="#1a1a1a" stroke-width="0.2" text-anchor="middle">0</text>
<text x="385.12" y="361.40" font-family="Liberation Sans, sans-serif" font-size="8.5" fill="#1a1a1a" stroke="#1a1a1a" stroke-width="0.2" text-anchor="middle">10</text>
<text x="110.77" y="374.20" font-family="Liberation Sans, sans-serif" font-size="8.5" fill="#1a1a1a" stroke="#1a1a1a" stroke-width="0.2" text-anchor="middle">15</text>
<text x="123.25" y="374.20" font-family="Liberation Sans, sans-serif" font-size="8.5" fill="#1a1a1a" stroke="#1a1a1a" stroke-width="0.2" text-anchor="middle">8</text>
<text x="173.12" y="374.20" font-family="Liberation Sans, sans-serif" font-size="8.5" fill="#1a1a1a" stroke="#1a1a1a" stroke-width="0.2" text-anchor="middle">8</text>
<text x="235.47" y="374.20" font-family="Liberation Sans, sans-serif" font-size="8.5" fill="#1a1a1a" stroke="#1a1a1a" stroke-width="0.2" text-anchor="middle">8</text>
<text x="335.24" y="374.20" font-family="Liberation Sans, sans-serif" font-size="8.5" fill="#1a1a1a" stroke="#1a1a1a" stroke-width="0.2" text-anchor="middle">23</text>
<text x="347.71" y="374.20" font-family="Liberation Sans, sans-serif" font-size="8.5" fill="#1a1a1a" stroke="#1a1a1a" stroke-width="0.2" text-anchor="middle">8</text>
<text x="385.12" y="374.20" font-family="Liberation Sans, sans-serif" font-size="8.5" fill="#1a1a1a" stroke="#1a1a1a" stroke-width="0.2" text-anchor="middle">0</text>
<text x="397.59" y="374.20" font-family="Liberation Sans, sans-serif" font-size="8.5" fill="#1a1a1a" stroke="#1a1a1a" stroke-width="0.2" text-anchor="middle">0</text>
<text x="410.06" y="374.20" font-family="Liberation Sans, sans-serif" font-size="8.5" fill="#1a1a1a" stroke="#1a1a1a" stroke-width="0.2" text-anchor="middle">23</text>
<text x="435.00" y="374.20" font-family="Liberation Sans, sans-serif" font-size="8.5" fill="#1a1a1a" stroke="#1a1a1a" stroke-width="0.2" text-anchor="middle">8</text>
<text x="148.19" y="387.00" font-family="Liberation Sans, sans-serif" font-size="8.5" fill="#1a1a1a" stroke="#1a1a1a" stroke-width="0.2" text-anchor="middle">14</text>
<text x="210.53" y="387.00" font-family="Liberation Sans, sans-serif" font-size="8.5" fill="#1a1a1a" stroke="#1a1a1a" stroke-width="0.2" text-anchor="middle">14</text>
<text x="385.12" y="387.00" font-family="Liberation Sans, sans-serif" font-size="8.5" fill="#1a1a1a" stroke="#1a1a1a" stroke-width="0.2" text-anchor="middle">14</text>
<text x="410.06" y="387.00" font-family="Liberation Sans, sans-serif" font-size="8.5" fill="#1a1a1a" stroke="#1a1a1a" stroke-width="0.2" text-anchor="middle">57</text>
<text x="422.52" y="387.00" font-family="Liberation Sans, sans-serif" font-size="8.5" fill="#1a1a1a" stroke="#1a1a1a" stroke-width="0.2" text-anchor="middle">0</text>
<text x="385.12" y="399.80" font-family="Liberation Sans, sans-serif" font-size="8.5" fill="#1a1a1a" stroke="#1a1a1a" stroke-width="0.2" text-anchor="middle">20</text>
<text x="410.06" y="399.80" font-family="Liberation Sans, sans-serif" font-size="8.5" fill="#1a1a1a" stroke="#1a1a1a" stroke-width="0.2" text-anchor="middle">40</text>
<text x="435.00" y="399.80" font-family="Liberation Sans, sans-serif" font-size="8.5" fill="#1a1a1a" stroke="#1a1a1a" stroke-width="0.2" text-anchor="middle">40</text>
<text x="447.47" y="412.60" font-family="Liberation Sans, sans-serif" font-size="8.5" fill="#fff" text-anchor="middle">100</text>
<text x="459.94" y="412.60" font-family="Liberation Sans, sans-serif" font-size="8.5" fill="#1a1a1a" stroke="#1a1a1a" stroke-width="0.2" text-anchor="middle">0</text>
<rect x="80.10" y="288.50" width="86.29" height="11.80" fill="none" stroke="#d42a3a" stroke-width="1.4"/>
<rect x="167.39" y="301.30" width="36.41" height="11.80" fill="none" stroke="#de98d2" stroke-width="1.4"/>
<rect x="204.80" y="314.10" width="48.88" height="11.80" fill="none" stroke="#e0a070" stroke-width="1.4"/>
<rect x="254.68" y="326.90" width="48.88" height="11.80" fill="none" stroke="#f0c83a" stroke-width="1.4"/>
<rect x="304.56" y="339.70" width="23.94" height="11.80" fill="none" stroke="#3a9a5e" stroke-width="1.4"/>
<rect x="329.50" y="352.50" width="48.88" height="11.80" fill="none" stroke="#5a96d6" stroke-width="1.4"/>
<rect x="379.38" y="365.30" width="23.94" height="11.80" fill="none" stroke="#3c429a" stroke-width="1.4"/>
<rect x="404.32" y="378.10" width="23.94" height="11.80" fill="none" stroke="#4a2c8a" stroke-width="1.4"/>
<rect x="429.26" y="390.90" width="11.47" height="11.80" fill="none" stroke="#c2226c" stroke-width="1.4"/>
<rect x="441.73" y="403.70" width="23.94" height="11.80" fill="none" stroke="#7a2a3a" stroke-width="1.4"/>
<line x1="77.2" y1="294.40" x2="79.6" y2="294.40" stroke="#333" stroke-width="1.2"/>
<text x="73.2" y="297.60" font-family="Liberation Sans, sans-serif" font-size="9" fill="#d23a48" text-anchor="end">GI</text>
<line x1="77.2" y1="307.20" x2="79.6" y2="307.20" stroke="#333" stroke-width="1.2"/>
<text x="73.2" y="310.40" font-family="Liberation Sans, sans-serif" font-size="9" fill="#cf8cc6" text-anchor="end">Brain/CNS</text>
<line x1="77.2" y1="320.00" x2="79.6" y2="320.00" stroke="#333" stroke-width="1.2"/>
<text x="73.2" y="323.20" font-family="Liberation Sans, sans-serif" font-size="9" fill="#de8f5e" text-anchor="end">Skin</text>
<line x1="77.2" y1="332.80" x2="79.6" y2="332.80" stroke="#333" stroke-width="1.2"/>
<text x="73.2" y="336.00" font-family="Liberation Sans, sans-serif" font-size="9" fill="#ecc65a" text-anchor="end">Genitourinary</text>
<line x1="77.2" y1="345.60" x2="79.6" y2="345.60" stroke="#333" stroke-width="1.2"/>
<text x="73.2" y="348.80" font-family="Liberation Sans, sans-serif" font-size="9" fill="#4aa35a" text-anchor="end">Gynecologic</text>
<line x1="77.2" y1="358.40" x2="79.6" y2="358.40" stroke="#333" stroke-width="1.2"/>
<text x="73.2" y="361.60" font-family="Liberation Sans, sans-serif" font-size="9" fill="#4f88c3" text-anchor="end">Thoracic</text>
<line x1="77.2" y1="371.20" x2="79.6" y2="371.20" stroke="#333" stroke-width="1.2"/>
<text x="73.2" y="374.40" font-family="Liberation Sans, sans-serif" font-size="9" fill="#363c72" text-anchor="end">Head and neck</text>
<line x1="77.2" y1="384.00" x2="79.6" y2="384.00" stroke="#333" stroke-width="1.2"/>
<text x="73.2" y="387.20" font-family="Liberation Sans, sans-serif" font-size="9" fill="#7e4aa8" text-anchor="end">Soft tissue</text>
<line x1="77.2" y1="396.80" x2="79.6" y2="396.80" stroke="#333" stroke-width="1.2"/>
<text x="73.2" y="400.00" font-family="Liberation Sans, sans-serif" font-size="9" fill="#d4506e" text-anchor="end">Breast</text>
<line x1="77.2" y1="409.60" x2="79.6" y2="409.60" stroke="#333" stroke-width="1.2"/>
<text x="73.2" y="412.80" font-family="Liberation Sans, sans-serif" font-size="9" fill="#8a5a52" text-anchor="end">Endocrine</text>
<text transform="translate(8.5,352) rotate(-90)" font-family="Liberation Sans, sans-serif" font-size="9" font-weight="bold" fill="#0a0a0a" text-anchor="middle">OOD organ system</text>
<line x1="85.83" y1="416.2" x2="85.83" y2="418.4" stroke="#333" stroke-width="1.1"/>
<text transform="translate(87.93,422) rotate(-90)" font-family="Liberation Sans, sans-serif" font-size="8.4" fill="#d23a48" text-anchor="end">Colorectal</text>
<line x1="98.30" y1="416.2" x2="98.30" y2="418.4" stroke="#333" stroke-width="1.1"/>
<text transform="translate(100.40,422) rotate(-90)" font-family="Liberation Sans, sans-serif" font-size="8.4" fill="#d23a48" text-anchor="end">Pancreatic</text>
<line x1="110.77" y1="416.2" x2="110.77" y2="418.4" stroke="#333" stroke-width="1.1"/>
<text transform="translate(112.87,422) rotate(-90)" font-family="Liberation Sans, sans-serif" font-size="8.4" fill="#d23a48" text-anchor="end">Esophagogastric</text>
<line x1="123.25" y1="416.2" x2="123.25" y2="418.4" stroke="#333" stroke-width="1.1"/>
<text transform="translate(125.34,422) rotate(-90)" font-family="Liberation Sans, sans-serif" font-size="8.4" fill="#d23a48" text-anchor="end">Cholangiocarcinoma</text>
<line x1="135.72" y1="416.2" x2="135.72" y2="418.4" stroke="#333" stroke-width="1.1"/>
<text transform="translate(137.81,422) rotate(-90)" font-family="Liberation Sans, sans-serif" font-size="8.4" fill="#d23a48" text-anchor="end">Hepatocellular carc.</text>
<line x1="148.19" y1="416.2" x2="148.19" y2="418.4" stroke="#333" stroke-width="1.1"/>
<text transform="translate(150.28,422) rotate(-90)" font-family="Liberation Sans, sans-serif" font-size="8.4" fill="#d23a48" text-anchor="end">GIST</text>
<line x1="160.66" y1="416.2" x2="160.66" y2="418.4" stroke="#333" stroke-width="1.1"/>
<text transform="translate(162.75,422) rotate(-90)" font-family="Liberation Sans, sans-serif" font-size="8.4" fill="#d23a48" text-anchor="end">PNET</text>
<line x1="173.12" y1="416.2" x2="173.12" y2="418.4" stroke="#333" stroke-width="1.1"/>
<text transform="translate(175.22,422) rotate(-90)" font-family="Liberation Sans, sans-serif" font-size="8.4" fill="#cf8cc6" text-anchor="end">Glioma</text>
<line x1="185.59" y1="416.2" x2="185.59" y2="418.4" stroke="#333" stroke-width="1.1"/>
<text transform="translate(187.69,422) rotate(-90)" font-family="Liberation Sans, sans-serif" font-size="8.4" fill="#cf8cc6" text-anchor="end">Meningioma</text>
<line x1="198.06" y1="416.2" x2="198.06" y2="418.4" stroke="#333" stroke-width="1.1"/>
<text transform="translate(200.16,422) rotate(-90)" font-family="Liberation Sans, sans-serif" font-size="8.4" fill="#cf8cc6" text-anchor="end">Ependymoma</text>
<line x1="210.53" y1="416.2" x2="210.53" y2="418.4" stroke="#333" stroke-width="1.1"/>
<text transform="translate(212.63,422) rotate(-90)" font-family="Liberation Sans, sans-serif" font-size="8.4" fill="#de8f5e" text-anchor="end">Melanoma</text>
<line x1="223.00" y1="416.2" x2="223.00" y2="418.4" stroke="#333" stroke-width="1.1"/>
<text transform="translate(225.10,422) rotate(-90)" font-family="Liberation Sans, sans-serif" font-size="8.4" fill="#de8f5e" text-anchor="end">Cutaneous SQC</text>
<line x1="235.47" y1="416.2" x2="235.47" y2="418.4" stroke="#333" stroke-width="1.1"/>
<text transform="translate(237.57,422) rotate(-90)" font-family="Liberation Sans, sans-serif" font-size="8.4" fill="#de8f5e" text-anchor="end">Merkel cell carc.</text>
<line x1="247.94" y1="416.2" x2="247.94" y2="418.4" stroke="#333" stroke-width="1.1"/>
<text transform="translate(250.04,422) rotate(-90)" font-family="Liberation Sans, sans-serif" font-size="8.4" fill="#de8f5e" text-anchor="end">Uveal melanoma</text>
<line x1="260.41" y1="416.2" x2="260.41" y2="418.4" stroke="#333" stroke-width="1.1"/>
<text transform="translate(262.51,422) rotate(-90)" font-family="Liberation Sans, sans-serif" font-size="8.4" fill="#ecc65a" text-anchor="end">Germ cell tumor</text>
<line x1="272.88" y1="416.2" x2="272.88" y2="418.4" stroke="#333" stroke-width="1.1"/>
<text transform="translate(274.99,422) rotate(-90)" font-family="Liberation Sans, sans-serif" font-size="8.4" fill="#ecc65a" text-anchor="end">Bladder</text>
<line x1="285.36" y1="416.2" x2="285.36" y2="418.4" stroke="#333" stroke-width="1.1"/>
<text transform="translate(287.46,422) rotate(-90)" font-family="Liberation Sans, sans-serif" font-size="8.4" fill="#ecc65a" text-anchor="end">Prostate</text>
<line x1="297.83" y1="416.2" x2="297.83" y2="418.4" stroke="#333" stroke-width="1.1"/>
<text transform="translate(299.93,422) rotate(-90)" font-family="Liberation Sans, sans-serif" font-size="8.4" fill="#ecc65a" text-anchor="end">Renal cell</text>
<line x1="310.30" y1="416.2" x2="310.30" y2="418.4" stroke="#333" stroke-width="1.1"/>
<text transform="translate(312.40,422) rotate(-90)" font-family="Liberation Sans, sans-serif" font-size="8.4" fill="#4aa35a" text-anchor="end">Endometrial</text>
<line x1="322.76" y1="416.2" x2="322.76" y2="418.4" stroke="#333" stroke-width="1.1"/>
<text transform="translate(324.87,422) rotate(-90)" font-family="Liberation Sans, sans-serif" font-size="8.4" fill="#4aa35a" text-anchor="end">Ovarian</text>
<line x1="335.24" y1="416.2" x2="335.24" y2="418.4" stroke="#333" stroke-width="1.1"/>
<text transform="translate(337.34,422) rotate(-90)" font-family="Liberation Sans, sans-serif" font-size="8.4" fill="#4f88c3" text-anchor="end">NSCLC</text>
<line x1="347.71" y1="416.2" x2="347.71" y2="418.4" stroke="#333" stroke-width="1.1"/>
<text transform="translate(349.81,422) rotate(-90)" font-family="Liberation Sans, sans-serif" font-size="8.4" fill="#4f88c3" text-anchor="end">SCLC</text>
<line x1="360.17" y1="416.2" x2="360.17" y2="418.4" stroke="#333" stroke-width="1.1"/>
<text transform="translate(362.27,422) rotate(-90)" font-family="Liberation Sans, sans-serif" font-size="8.4" fill="#4f88c3" text-anchor="end">Mesothelioma</text>
<line x1="372.64" y1="416.2" x2="372.64" y2="418.4" stroke="#333" stroke-width="1.1"/>
<text transform="translate(374.75,422) rotate(-90)" font-family="Liberation Sans, sans-serif" font-size="8.4" fill="#4f88c3" text-anchor="end">Lu-NET</text>
<line x1="385.12" y1="416.2" x2="385.12" y2="418.4" stroke="#333" stroke-width="1.1"/>
<text transform="translate(387.22,422) rotate(-90)" font-family="Liberation Sans, sans-serif" font-size="8.4" fill="#363c72" text-anchor="end">Salivary gland</text>
<line x1="397.59" y1="416.2" x2="397.59" y2="418.4" stroke="#333" stroke-width="1.1"/>
<text transform="translate(399.69,422) rotate(-90)" font-family="Liberation Sans, sans-serif" font-size="8.4" fill="#363c72" text-anchor="end">Head and neck SQC</text>
<line x1="410.06" y1="416.2" x2="410.06" y2="418.4" stroke="#333" stroke-width="1.1"/>
<text transform="translate(412.16,422) rotate(-90)" font-family="Liberation Sans, sans-serif" font-size="8.4" fill="#7e4aa8" text-anchor="end">Sarcoma</text>
<line x1="422.52" y1="416.2" x2="422.52" y2="418.4" stroke="#333" stroke-width="1.1"/>
<text transform="translate(424.62,422) rotate(-90)" font-family="Liberation Sans, sans-serif" font-size="8.4" fill="#7e4aa8" text-anchor="end">MPNST</text>
<line x1="435.00" y1="416.2" x2="435.00" y2="418.4" stroke="#333" stroke-width="1.1"/>
<text transform="translate(437.10,422) rotate(-90)" font-family="Liberation Sans, sans-serif" font-size="8.4" fill="#d4506e" text-anchor="end">Breast</text>
<line x1="447.47" y1="416.2" x2="447.47" y2="418.4" stroke="#6a2a3a" stroke-width="1.1"/>
<text transform="translate(449.57,422) rotate(-90)" font-family="Liberation Sans, sans-serif" font-size="8.4" fill="#8a5a52" text-anchor="end">Thyroid</text>
<line x1="459.94" y1="416.2" x2="459.94" y2="418.4" stroke="#6a2a3a" stroke-width="1.1"/>
<text transform="translate(462.04,422) rotate(-90)" font-family="Liberation Sans, sans-serif" font-size="8.4" fill="#8a5a52" text-anchor="end">Adrenocortical carc.</text>
<rect x="466.5" y="289.35" width="36.59" height="9.5" fill="#7a7a7a"/>
<text x="505.29" y="297.30" font-family="Liberation Sans, sans-serif" font-size="9" fill="#606060">210</text>
<rect x="466.5" y="302.15" width="10.98" height="9.5" fill="#7a7a7a"/>
<text x="479.68" y="310.10" font-family="Liberation Sans, sans-serif" font-size="9" fill="#606060">65</text>
<rect x="466.5" y="314.95" width="6.03" height="9.5" fill="#7a7a7a"/>
<text x="474.73" y="322.90" font-family="Liberation Sans, sans-serif" font-size="9" fill="#606060">37</text>
<rect x="466.5" y="327.75" width="5.50" height="9.5" fill="#7a7a7a"/>
<text x="474.20" y="335.70" font-family="Liberation Sans, sans-serif" font-size="9" fill="#606060">34</text>
<rect x="466.5" y="340.55" width="5.50" height="9.5" fill="#7a7a7a"/>
<text x="474.20" y="348.50" font-family="Liberation Sans, sans-serif" font-size="9" fill="#606060">34</text>
<rect x="466.5" y="353.35" width="4.62" height="9.5" fill="#7a7a7a"/>
<text x="473.32" y="361.30" font-family="Liberation Sans, sans-serif" font-size="9" fill="#606060">29</text>
<rect x="466.5" y="366.15" width="1.80" height="9.5" fill="#7a7a7a"/>
<text x="470.50" y="374.10" font-family="Liberation Sans, sans-serif" font-size="9" fill="#606060">13</text>
<rect x="466.5" y="378.95" width="0.80" height="9.5" fill="#7a7a7a"/>
<text x="469.50" y="386.90" font-family="Liberation Sans, sans-serif" font-size="9" fill="#606060">7</text>
<rect x="466.5" y="391.75" width="0.80" height="9.5" fill="#7a7a7a"/>
<text x="469.50" y="399.70" font-family="Liberation Sans, sans-serif" font-size="9" fill="#606060">5</text>
<rect x="466.5" y="404.55" width="0.80" height="9.5" fill="#7a7a7a"/>
<text x="469.50" y="412.50" font-family="Liberation Sans, sans-serif" font-size="9" fill="#606060">1</text>
<text x="265.6" y="506.0" font-family="Liberation Sans, sans-serif" font-size="9.2" font-weight="bold" fill="#0a0a0a" text-anchor="middle">GDD-ENS prediction (High conf.)</text></svg>
</body></html>
